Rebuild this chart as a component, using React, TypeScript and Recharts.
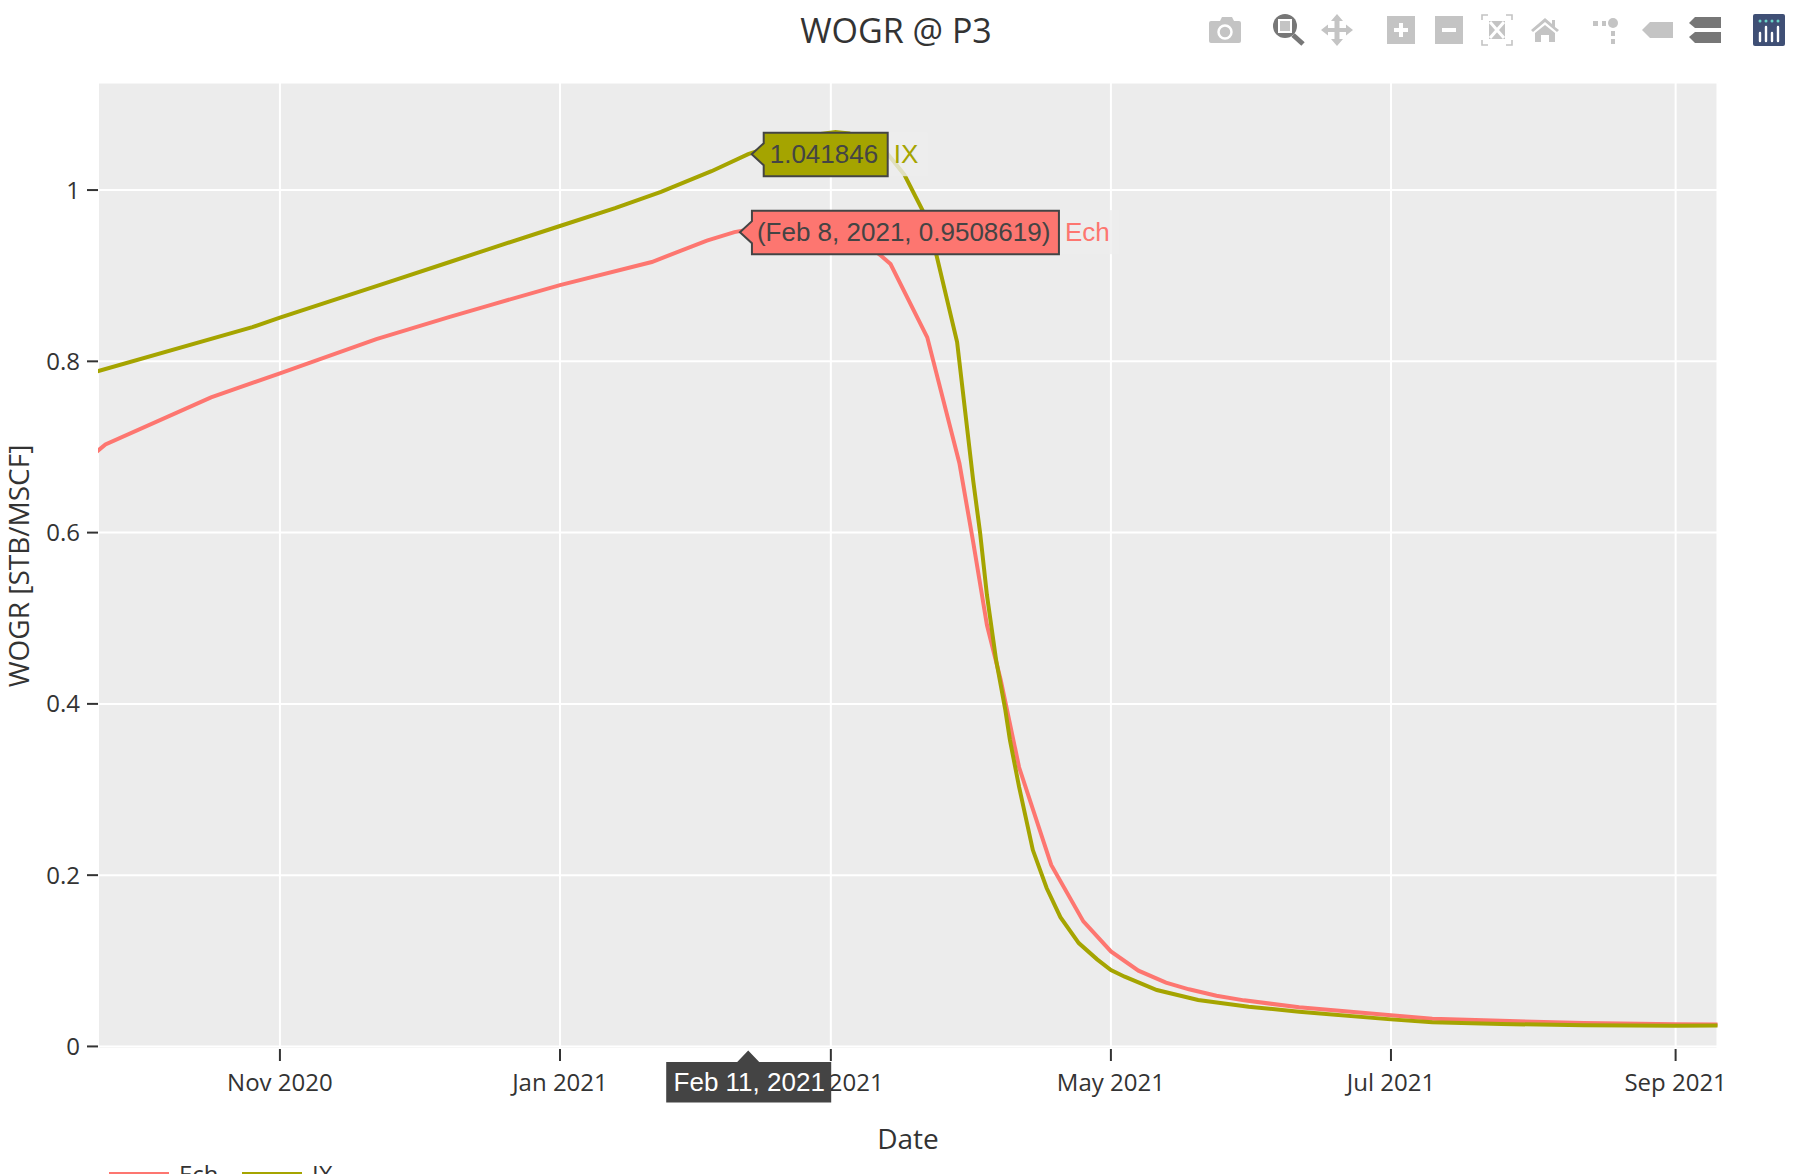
import React from "react";
import {
  CartesianGrid,
  Legend,
  Line,
  LineChart,
  ReferenceDot,
  XAxis,
  YAxis,
} from "recharts";

const echDates = [
  "2020-09-22", "2020-09-24", "2020-10-17", "2020-11-01", "2020-11-22", "2020-12-08",
  "2020-12-17", "2021-01-01", "2021-01-21", "2021-02-02", "2021-02-08", "2021-02-20",
  "2021-03-01", "2021-03-07", "2021-03-12", "2021-03-14", "2021-03-22", "2021-03-29",
  "2021-04-01", "2021-04-04", "2021-04-07", "2021-04-11", "2021-04-18", "2021-04-25",
  "2021-05-01", "2021-05-07", "2021-05-13", "2021-05-18", "2021-05-24", "2021-05-30",
  "2021-06-11", "2021-07-01", "2021-07-10", "2021-07-25", "2021-08-12", "2021-09-01",
  "2021-09-11",
];
const echValues = [
  0.694, 0.703, 0.758, 0.786, 0.826, 0.852,
  0.866, 0.889, 0.916, 0.941, 0.9508619, 0.9626,
  0.967, 0.944, 0.923, 0.9136, 0.828, 0.681,
  0.589, 0.492, 0.428, 0.326, 0.212, 0.146,
  0.111, 0.0885, 0.0745, 0.0667, 0.0592, 0.0538,
  0.0457, 0.0363, 0.0323, 0.03, 0.0273, 0.0258,
  0.0255,
];

const ixDates = [
  "2020-09-22", "2020-10-26", "2020-11-01", "2020-11-25", "2020-12-08", "2020-12-17",
  "2021-01-01", "2021-01-13", "2021-01-23", "2021-02-03", "2021-02-11", "2021-02-20",
  "2021-02-26", "2021-03-02", "2021-03-05", "2021-03-09", "2021-03-13", "2021-03-17",
  "2021-03-21", "2021-03-24", "2021-03-28T12:00:00Z", "2021-04-01", "2021-04-02T12:00:00Z",
  "2021-04-04", "2021-04-06", "2021-04-08", "2021-04-09", "2021-04-11", "2021-04-14",
  "2021-04-17", "2021-04-20", "2021-04-24", "2021-04-28", "2021-05-01", "2021-05-04",
  "2021-05-11", "2021-05-20", "2021-05-31", "2021-06-11", "2021-07-01", "2021-07-10",
  "2021-07-25", "2021-08-12", "2021-09-01", "2021-09-11",
];
const ixValues = [
  0.788, 0.84, 0.851, 0.893, 0.916, 0.932,
  0.958, 0.979, 0.998, 1.022, 1.041846, 1.058,
  1.065, 1.0677, 1.066, 1.055, 1.0447, 1.018,
  0.976, 0.924, 0.8225, 0.661, 0.6,
  0.527, 0.451, 0.393, 0.358, 0.303, 0.2293,
  0.185, 0.151, 0.1207, 0.1017, 0.0892, 0.0814,
  0.0659, 0.0542, 0.0464, 0.0405, 0.0316, 0.0281,
  0.0262, 0.0246, 0.0242, 0.0246,
];

const xTickDates = ["2020-11-01", "2021-01-01", "2021-03-01", "2021-05-01", "2021-07-01", "2021-09-01"];
const xTickLabels = ["Nov 2020", "Jan 2021", "Mar 2021", "May 2021", "Jul 2021", "Sep 2021"];
const yTicks = [0, 0.2, 0.4, 0.6, 0.8, 1];

const toTime = (s: string) => Date.parse(s.length > 10 ? s : s + "T00:00:00Z");

const echData = echDates.map((d, i) => ({ t: toTime(d), v: echValues[i] }));
const ixData = ixDates.map((d, i) => ({ t: toTime(d), v: ixValues[i] }));
const xTicks = xTickDates.map(toTime);
const xDomain = [Date.parse("2020-09-22T09:00:00Z"), Date.parse("2021-09-10T03:00:00Z")];

const ECH = "#FD7670";
const IX = "#A5A400";
const DARK = "#444444";
const OPEN = "'Open Sans', sans-serif";
const ARIAL = "'Liberation Sans', Arial, sans-serif";

const hoverLabel = (text: string, name: string, fill: string, tipDx: number, boxW: number, nameW: number, textX: number) =>
  (props: any) => {
    const tip = props.cx + tipDx;
    const cy = props.cy;
    const left = tip + 12;
    const right = left + boxW;
    const d = `M${tip} ${cy} L${left} ${cy - 11} V${cy - 21.5} H${right} V${cy + 22} H${left} V${cy + 11} Z`;
    return (
      <g>
        <rect x={right} y={cy - 22} width={nameW} height={44} fill="#EEEEEE" fillOpacity={0.8} />
        <path d={d} fill={fill} stroke={DARK} strokeWidth={2} />
        <text x={left + textX} y={cy + 9} fontFamily={ARIAL} fontSize={26} fill={DARK}>
          {text}
        </text>
        <text x={right + 6} y={cy + 9} fontFamily={ARIAL} fontSize={26} fill={fill}>
          {name}
        </text>
      </g>
    );
  };

const spikeLabel = (text: string) => (props: any) => {
  const x = props.cx;
  const y = props.cy + 4;
  const d = `M${x} ${y} L${x + 11} ${y + 11.5} H${x + 83} V${y + 52} H${x - 82} V${y + 11.5} H${x - 11} Z`;
  return (
    <g>
      <path d={d} fill={DARK} />
      <text x={x + 1} y={y + 41} textAnchor="middle" fontFamily={ARIAL} fontSize={26} fill="#fff">
        {text}
      </text>
    </g>
  );
};

const LegendRow = ({ payload }: any) => (
  <div style={{ position: "relative", height: 40, fontFamily: OPEN, fontSize: 24, color: "#333" }}>
    {(payload || []).map((p: any, i: number) => (
      <div key={p.value} style={{ position: "absolute", left: i === 0 ? 0 : 133, top: 0, whiteSpace: "nowrap" }}>
        <span style={{ position: "absolute", left: 0, top: 12, width: 60, height: 4, background: p.color }} />
        <span style={{ position: "absolute", left: i === 0 ? 70 : 70, top: -3 }}>{p.value}</span>
      </div>
    ))}
  </div>
);

const G = "#C4C4C4";
const D = "#777777";

const Toolbar = () => (
  <svg width={1802} height={60} style={{ position: "absolute", left: 0, top: 0 }}>
    {/* camera */}
    <path d="M1211 21 H1220 L1222 17 H1232 L1234 21 H1239 Q1241 21 1241 23 V41 Q1241 43 1239 43 H1211 Q1209 43 1209 41 V23 Q1209 21 1211 21 Z" fill={G} />
    <circle cx={1225} cy={32} r={6.5} fill="none" stroke="#fff" strokeWidth={2.5} />
    {/* zoom */}
    <circle cx={1285} cy={26} r={12} fill={D} />
    <rect x={1279} y={20} width={12} height={12} fill={G} stroke="#fff" strokeWidth={2} />
    <path d="M1293 35 L1303 44" stroke={D} strokeWidth={5} />
    {/* pan */}
    <path d="M1337 14 L1343 21 H1339.5 V28 H1346 V24.5 L1353 30 L1346 35.5 V32 H1339.5 V39 H1343 L1337 46 L1331 39 H1334.5 V32 H1328 V35.5 L1321 30 L1328 24.5 V28 H1334.5 V21 H1331 Z" fill={G} />
    {/* zoom in / out */}
    <rect x={1387} y={16} width={28} height={28} fill={G} />
    <path d="M1394 30 H1408 M1401 23 V37" stroke="#fff" strokeWidth={4} />
    <rect x={1435} y={16} width={28} height={28} fill={G} />
    <path d="M1442 30 H1456" stroke="#fff" strokeWidth={4} />
    {/* autoscale */}
    <path d="M1482 20 V15 H1488 M1506 15 H1512 V20 M1512 40 V45 H1506 M1488 45 H1482 V40" fill="none" stroke={G} strokeWidth={1.6} />
    <path d="M1489 21 H1505 V39 H1489 Z" fill={G} />
    <path d="M1490 22 L1504 38 M1504 22 L1490 38" stroke="#fff" strokeWidth={3} />
    {/* home */}
    <path d="M1531 30 L1545 18 L1552 24 V20 H1555 V27 L1559 30 L1557 32 L1545 22 L1533 32 Z" fill={G} />
    <path d="M1535 33 L1545 25 L1555 33 V42 H1549 V35 H1541 V42 H1535 Z" fill={G} />
    {/* spikes */}
    <rect x={1593} y={21} width={5} height={5} fill={G} />
    <rect x={1602} y={21} width={4} height={5} fill={G} />
    <circle cx={1613} cy={23} r={5} fill={G} />
    <rect x={1611} y={31} width={4} height={5} fill={G} />
    <rect x={1611} y={39} width={4} height={5} fill={G} />
    {/* closest */}
    <path d="M1642 30 L1650 22 H1673 V38 H1650 Z" fill={G} />
    {/* compare */}
    <path d="M1689 23 L1695 17 H1721 V28 H1695 Z" fill={D} />
    <path d="M1689 37 L1695 32 H1721 V43 H1695 Z" fill={D} />
    {/* logo */}
    <rect x={1753} y={14} width={32} height={32} rx={2} fill="#3F4F75" />
    <path d="M1760 33 V41 M1766 27 V41 M1772 33 V41 M1778 27 V41" stroke="#fff" strokeWidth={2.4} strokeLinecap="round" />
    <path d="M1760 21 h.01 M1766 21 h.01 M1772 21 h.01 M1778 21 h.01" stroke="#69D2C6" strokeWidth={3} strokeLinecap="round" />
  </svg>
);

const App = () => (
  <div style={{ position: "fixed", left: 0, top: 0, width: 1802, height: 1174, overflow: "hidden", background: "#fff" }}>
    <LineChart width={1802} height={1230} margin={{ top: 82.5, right: 84.5, bottom: 81, left: 0 }}>
      <CartesianGrid stroke="#fff" strokeWidth={2} fill="#ECECEC" />
      <XAxis
        dataKey="t"
        type="number"
        domain={xDomain}
        allowDataOverflow
        ticks={xTicks}
        interval={0}
        tickFormatter={(v: number) => xTickLabels[xTicks.indexOf(v)]}
        axisLine={false}
        tickLine={{ stroke: "#333", strokeWidth: 2 }}
        tickSize={12}
        tickMargin={13}
        height={60}
        tick={{ fill: "#333", fontSize: 24, fontFamily: OPEN }}
        label={{
          content: () => (
            <text x={908} y={1149} textAnchor="middle" fill="#333" fontSize={28} fontFamily={OPEN}>
              Date
            </text>
          ),
        }}
      />
      <YAxis
        type="number"
        domain={[-0.003, 1.1256]}
        allowDataOverflow
        ticks={yTicks}
        interval={0}
        width={98}
        axisLine={false}
        tickLine={{ stroke: "#333", strokeWidth: 2 }}
        tickSize={11}
        tickMargin={7}
        tick={{ fill: "#333", fontSize: 24, fontFamily: OPEN }}
        label={{
          content: () => (
            <text transform="translate(29 566) rotate(-90)" textAnchor="middle" fill="#333" fontSize={28} fontFamily={OPEN}>
              WOGR [STB/MSCF]
            </text>
          ),
        }}
      />
      <Line data={echData} dataKey="v" name="Ech" stroke={ECH} strokeWidth={4} dot={false} isAnimationActive={false} />
      <Line data={ixData} dataKey="v" name="IX" stroke={IX} strokeWidth={4} dot={false} isAnimationActive={false} />
      <Legend
        content={<LegendRow />}
        wrapperStyle={{ position: "absolute", left: 109, top: 1160, width: 400, bottom: "auto" }}
      />
      <ReferenceDot
        x={toTime("2021-02-11")}
        y={1.041846}
        ifOverflow="visible"
        zIndex={2000}
        shape={hoverLabel("1.041846", "IX", IX, 3.5, 124, 40, 6)}
      />
      <ReferenceDot
        x={toTime("2021-02-08")}
        y={0.9508619}
        ifOverflow="visible"
        zIndex={2000}
        shape={hoverLabel("(Feb 8, 2021, 0.9508619)", "Ech", ECH, 5.5, 307, 60, 5)}
      />
      <ReferenceDot x={toTime("2021-02-11")} y={0} ifOverflow="visible" zIndex={2000} shape={spikeLabel("Feb 11, 2021")} />
    </LineChart>
    <div style={{ position: "absolute", left: 696, width: 400, top: 7, textAlign: "center", fontFamily: OPEN, fontSize: 34, color: "#333" }}>
      WOGR @ P3
    </div>
    <Toolbar />
  </div>
);

export default App;
